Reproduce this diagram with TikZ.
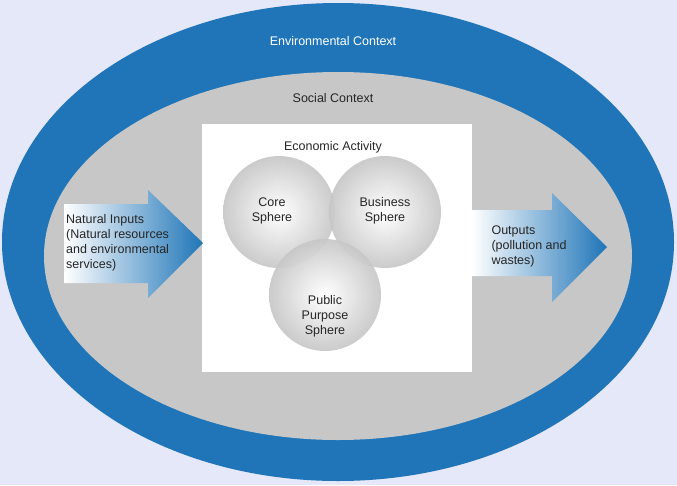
\documentclass[tikz,border=0pt]{standalone}
\usepackage{fontspec}
\setmainfont{Liberation Sans}
\begin{document}
\begin{tikzpicture}[x=1pt,y=-1pt,
  lbl/.style={font=\fontsize{12.5}{15}\selectfont,text=black!85},
  sph/.style={circle,minimum size=112pt,inner sep=0pt,shading=radial,inner color=white,outer color=black!22,draw=none,opacity=0.92}]
\definecolor{bg}{HTML}{E4E8F8}
\definecolor{envblue}{HTML}{1F75B8}
\useasboundingbox (0,0) rectangle (677,485);
\fill[bg] (0,0) rectangle (677,485);
\fill[envblue] (338,242) ellipse [x radius=336,y radius=239];
\fill[black!22] (338,256) ellipse [x radius=294,y radius=184];
\node[draw=none,fill=white,minimum width=270pt,minimum height=248pt,anchor=north west] (eco) at (202,124) {};
\node[lbl,text=white] (env) at (333,41) {Environmental Context};
\node[lbl] (soc) at (333,98) {Social Context};
\node[lbl] (ecol) at (333,147) {Economic Activity};
\node[sph] (core) at (279,212) {};
\node[sph] (bus) at (385,212) {};
\node[sph] (pub) at (325,295) {};
\node[lbl,align=center] at (272,211) {Core\\Sphere};
\node[lbl,align=center] at (385,211) {Business\\Sphere};
\node[lbl,align=center] at (325,316) {Public\\Purpose\\Sphere};
\shade[left color=white,right color=envblue] (64,204) -- (148,204) -- (148,190) -- (203,243) -- (148,298) -- (148,283) -- (64,283) -- cycle;
\shade[left color=white,right color=envblue] (472,210) -- (552,210) -- (552,193) -- (607,247) -- (552,302) -- (552,276) -- (472,276) -- cycle;
\node[lbl,align=left,anchor=west,inner sep=2pt] (nat) at (64,243) {Natural Inputs\\(Natural resources\\and environmental\\services)};
\node[lbl,align=left,anchor=west] (out) at (488,246) {Outputs\\(pollution and\\wastes)};
\end{tikzpicture}
\end{document}
